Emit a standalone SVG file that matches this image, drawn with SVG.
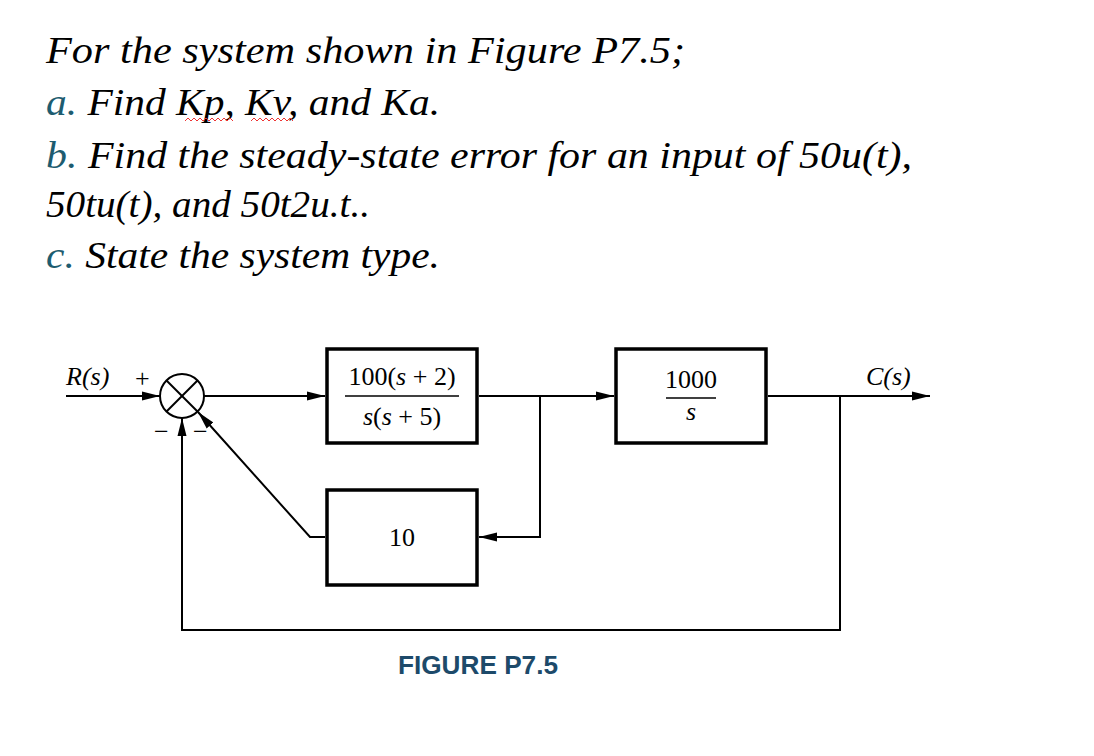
<svg xmlns="http://www.w3.org/2000/svg" width="1094" height="756" viewBox="0 0 1094 756">
<defs>
<marker id="ah" viewBox="0 0 18 10" refX="18" refY="5" markerWidth="18" markerHeight="10" markerUnits="userSpaceOnUse" orient="auto"><path d="M0,0.5 L18,5 L0,9.5 Z" fill="#000"/></marker>
</defs>
<style>
.h{font-family:"Liberation Serif",serif;font-style:italic;font-size:37px;fill:#000}
.t{fill:#1d5c70}
.m{font-family:"Liberation Serif",serif;font-size:26px;fill:#000}
.i{font-style:italic}
.b{fill:none;stroke:#000;stroke-width:3.5}
.l{fill:none;stroke:#000;stroke-width:2}
</style>
<rect width="1094" height="756" fill="#fff"/>
<g id="question">
<text class="h" x="46" y="63" textLength="639" lengthAdjust="spacingAndGlyphs">For the system shown in Figure P7.5;</text>
<text class="h" x="46" y="115" textLength="394" lengthAdjust="spacingAndGlyphs"><tspan class="t">a.</tspan> Find Kp, Kv, and Ka.</text>
<text class="h" x="46" y="168" textLength="866" lengthAdjust="spacingAndGlyphs"><tspan class="t">b.</tspan> Find the steady-state error for an input of 50u(t),</text>
<text class="h" x="46" y="217" textLength="324" lengthAdjust="spacingAndGlyphs">50tu(t), and 50t2u.t..</text>
<text class="h" x="46" y="268" textLength="394" lengthAdjust="spacingAndGlyphs"><tspan class="t">c.</tspan> State the system type.</text>
<path d="M185,121 l3,-3 3,3 3,-3 3,3 3,-3 3,3 3,-3 3,3 3,-3 3,3 3,-3 3,3 3,-3 3,3 3,-3 3,3 M251,121 l3,-3 3,3 3,-3 3,3 3,-3 3,3 3,-3 3,3 3,-3 3,3 3,-3 3,3 3,-3 3,3" fill="none" stroke="#e33" stroke-width="1"/>
</g>
<g id="sum">
<circle cx="182" cy="396" r="22" class="l" fill="#fff"/>
<line x1="166.5" y1="380.5" x2="197.5" y2="411.5" class="l"/>
<line x1="197.5" y1="380.5" x2="166.5" y2="411.5" class="l"/>
<text class="m i" x="66" y="385">R(s)</text>
<text class="m" x="135" y="387">+</text>
<text class="m" x="154" y="440">−</text>
<text class="m" x="193" y="440">−</text>
</g>
<g id="g1">
<rect x="327" y="349" width="150" height="94" class="b"/>
<text class="m" x="402" y="385" text-anchor="middle">100(<tspan class="i">s</tspan> + 2)</text>
<line x1="345" y1="396" x2="459" y2="396" stroke="#000" stroke-width="1.5"/>
<text class="m" x="402" y="425" text-anchor="middle"><tspan class="i">s</tspan>(<tspan class="i">s</tspan> + 5)</text>
</g>
<g id="g2">
<rect x="616" y="349" width="150" height="94" class="b"/>
<text class="m" x="691" y="388" text-anchor="middle">1000</text>
<line x1="666" y1="398" x2="716" y2="398" stroke="#000" stroke-width="1.5"/>
<text class="m i" x="691" y="420" text-anchor="middle">s</text>
</g>
<g id="h">
<rect x="327" y="490" width="150" height="95" class="b"/>
<text class="m" x="402" y="546" text-anchor="middle">10</text>
</g>
<g id="connectors">
<line x1="66" y1="396" x2="160" y2="396" class="l" marker-end="url(#ah)"/>
<line x1="204" y1="396" x2="325" y2="396" class="l" marker-end="url(#ah)"/>
<line x1="479" y1="396" x2="614" y2="396" class="l" marker-end="url(#ah)"/>
<line x1="768" y1="396" x2="930" y2="396" class="l" marker-end="url(#ah)"/>
<polyline points="540,396 540,537 479,537" class="l" marker-end="url(#ah)"/>
<polyline points="325,537 310,537 198,412" class="l" marker-end="url(#ah)"/>
<polyline points="840,396 840,630 182,630 182,418" class="l" marker-end="url(#ah)"/>
<text class="m i" x="866" y="385">C(s)</text>
</g>
<text x="398" y="674" textLength="160" lengthAdjust="spacingAndGlyphs" font-family="Liberation Sans, sans-serif" font-weight="bold" font-size="26" fill="#1d4a6a">FIGURE P7.5</text>
</svg>
